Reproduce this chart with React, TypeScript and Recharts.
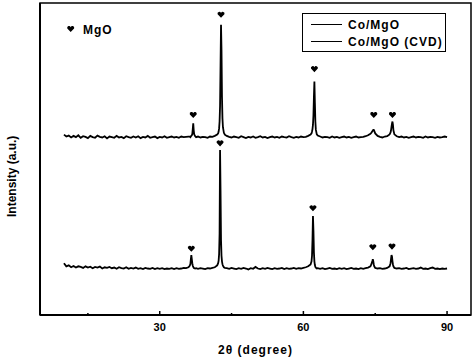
import { LineChart, Line, XAxis, YAxis, Scatter, ReferenceArea } from 'recharts'

// 2θ positions (deg); coarse on the baseline, fine around the MgO reflections
const angles = [
  10, 10.5, 11, 11.5, 12, 12.5, 13, 13.5, 14, 14.5, 15, 15.5, 16, 16.5, 17, 17.5, 18, 18.5, 19, 19.5,
  20, 20.5, 21, 21.5, 22, 22.5, 23, 23.5, 24, 24.5, 25, 25.5, 26, 26.5, 27, 27.5, 28, 28.5, 29, 29.5,
  30, 30.5, 31, 31.5, 32, 32.5, 33, 33.5, 34, 34.5, 35, 35.5, 36,
  36.2, 36.4, 36.5, 36.6, 36.7, 36.8, 36.9, 37.0, 37.1, 37.2, 37.4,
  37.6, 38, 38.5, 39, 39.5, 40, 40.5, 41, 41.5, 42,
  42.2, 42.3, 42.4, 42.5, 42.6, 42.7, 42.8, 42.9, 43.0, 43.1, 43.2, 43.4, 43.6,
  44, 44.5, 45, 45.5, 46, 46.5, 47, 47.5, 48, 48.5, 49, 49.5, 50, 50.5, 51, 51.5, 52, 52.5,
  53, 53.5, 54, 54.5, 55, 55.5, 56, 56.5, 57, 57.5, 58, 58.5, 59, 59.5, 60, 60.5, 61, 61.5,
  61.7, 61.8, 61.9, 62.0, 62.1, 62.2, 62.3, 62.4, 62.5, 62.6, 62.8,
  63, 63.5, 64, 64.5, 65, 65.5, 66, 66.5, 67, 67.5, 68, 68.5, 69, 69.5, 70, 70.5, 71, 71.5,
  72, 72.5, 73, 73.5, 74,
  74.2, 74.4, 74.5, 74.6, 74.7, 74.8, 75.0,
  75.5, 76, 76.5, 77, 77.5, 78,
  78.2, 78.3, 78.4, 78.5, 78.6, 78.7, 78.8, 79.0,
  79.5, 80, 80.5, 81, 81.5, 82, 82.5, 83, 83.5, 84, 84.5, 85, 85.5, 86, 86.5, 87, 87.5, 88,
  88.5, 89, 89.5, 90,
]

// upper trace (offset)
const coMgO = [
  57.8, 57.2, 57.5, 56.9, 57.4, 57.0, 57.6, 56.8, 57.3, 57.1, 56.7, 57.4, 57.0, 56.8, 57.5, 57.1, 56.9, 57.3, 56.6, 57.2,
  57.0, 56.8, 57.4, 56.9, 57.1, 56.7, 57.3, 57.0, 56.8, 57.2, 56.9, 57.3, 56.7, 57.1, 56.9, 57.4, 56.8, 57.0, 57.2, 56.7,
  57.1, 56.9, 57.3, 56.8, 57.0, 57.2, 56.9, 57.1, 56.8, 57.2, 57.0, 57.1, 57.2,
  57.2, 57.0, 57.3, 57.4, 57.6, 58.0, 59.6, 61.4, 59.2, 57.9, 57.3,
  57.0, 57.2, 56.9, 57.1, 57.0, 56.8, 57.2, 57.1, 57.4, 57.8,
  58.2, 58.8, 59.8, 62.0, 67, 80, 93, 85, 70, 63, 60.2, 58.4, 57.8,
  57.4, 57.1, 56.9, 57.2, 57.0, 56.8, 57.3, 57.0, 56.7, 57.1, 56.9, 57.2, 56.8, 57.0, 57.3, 56.9, 57.1, 56.7,
  57.0, 57.2, 56.9, 57.1, 56.8, 57.2, 57.0, 56.9, 57.3, 57.0, 56.8, 57.1, 56.9, 57.2, 57.0, 57.1, 57.4, 57.8,
  58.2, 58.8, 59.6, 61, 64, 70, 74.8, 68, 62, 59.4, 57.9,
  57.5, 57.2, 56.9, 57.1, 57.0, 56.8, 57.2, 56.9, 57.1, 56.8, 57.0, 57.2, 56.9, 57.1, 56.8, 57.0, 57.2, 56.9,
  57.0, 57.1, 57.3, 57.6, 58.1,
  58.4, 58.9, 59.2, 59.3, 59.3, 59.0, 58.2,
  57.4, 57.1, 56.9, 57.2, 57.3, 57.9,
  58.5, 59.2, 60.3, 61.3, 62, 61, 59.2, 57.9,
  57.3, 57.0, 57.2, 56.9, 57.1, 56.8, 57.0, 57.2, 56.9, 57.1, 57.0, 56.8, 57.2, 56.9, 57.1, 57.0, 56.8, 57.1,
  56.9, 57.0, 57.2, 57.0,
]

// lower trace
const coMgOCvd = [
  16.6, 15.6, 15.9, 15.3, 15.7, 15.2, 15.6, 15.4, 15.1, 15.6, 15.2, 15.5, 15.0, 15.4, 15.2, 15.5, 14.9, 15.3, 15.1, 15.4,
  15.0, 15.2, 14.8, 15.3, 15.0, 14.9, 15.3, 14.8, 15.1, 14.9, 15.2, 14.8, 15.0, 14.7, 15.1, 14.9, 14.8, 15.1, 14.7, 15.0,
  14.8, 15.0, 14.7, 14.9, 14.8, 15.0, 14.7, 15.0, 14.8, 14.9, 15.1, 15.0, 15.3,
  15.6, 16.3, 17.8, 19.2, 17.9, 16.6, 15.8, 15.4, 15.1, 15.0, 14.9,
  15.0, 14.8, 15.0, 14.9, 14.7, 15.0, 14.9, 15.1, 15.3, 15.9,
  16.6, 17.4, 19.5, 26, 52.9, 40, 24, 19, 17.2, 16.3, 15.8, 15.3, 15.1,
  15.0, 14.8, 15.1, 14.9, 14.7, 15.0, 14.8, 15.1, 14.9, 14.6, 15.0, 14.8, 15.4, 14.9, 14.7, 15.0, 14.8, 15.1,
  14.9, 14.7, 15.0, 14.8, 14.9, 15.1, 14.7, 15.0, 14.8, 14.9, 15.1, 14.8, 15.0, 14.9, 15.1, 15.3, 15.6, 16.2,
  17.2, 19, 24, 31.7, 27, 20, 17.2, 16.0, 15.4, 15.2, 14.9,
  15.0, 14.8, 15.0, 14.7, 14.9, 15.1, 14.8, 14.9, 14.7, 15.0, 14.8, 15.0, 14.7, 14.9, 15.1, 14.8, 14.9, 14.7,
  15.0, 14.8, 15.0, 15.2, 15.6,
  16.3, 17.3, 17.9, 17.2, 16.2, 15.6, 15.1,
  14.9, 15.0, 14.8, 14.9, 15.1, 15.6,
  16.6, 17.9, 19.2, 18.8, 17.3, 16.2, 15.6, 15.1,
  14.9, 15.0, 14.8, 14.9, 15.1, 14.7, 14.9, 15.0, 14.8, 14.9, 15.2, 14.8, 14.9, 14.7, 15.0, 15.2, 14.8, 14.9,
  14.7, 14.9, 14.8, 14.9,
]

// MgO markers (♥) above each reflection
const markUpperX = [37.0, 42.8, 62.3, 74.7, 78.6]
const markUpperY = [64.1, 96.2, 78.8, 64.1, 64.1]
const markLowerX = [36.6, 42.6, 62.0, 74.5, 78.5]
const markLowerY = [21.2, 55.0, 34.2, 21.7, 21.9]

const xTicks = [15, 30, 45, 60, 75, 90]
const xLabels = [30, 60, 90]

const FONT = '"Liberation Sans", Arial, sans-serif'

const data = angles.map((a, i) => ({ angle: a, top: coMgO[i], bottom: coMgOCvd[i] }))
const marks = [
  ...markUpperX.map((x, i) => ({ angle: x, mark: markUpperY[i] })),
  ...markLowerX.map((x, i) => ({ angle: x, mark: markLowerY[i] })),
]

function heartPath(cx: number, cy: number) {
  return `M${cx},${cy + 3} L${cx - 3.4},${cy - 0.6} A1.8,1.8 0 0 1 ${cx},${cy - 1.8} A1.8,1.8 0 0 1 ${cx + 3.4},${cy - 0.6} Z`
}

function Heart(props: { cx?: number; cy?: number }) {
  const { cx = 0, cy = 0 } = props
  return <path d={heartPath(cx, cy)} fill="#000" />
}

function XTick(props: { x?: number; y?: number; payload?: { value: number } }) {
  const { x = 0, y = 0, payload } = props
  const v = payload?.value ?? 0
  const major = xLabels.includes(v)
  return (
    <g>
      <line x1={x} x2={x} y1={y} y2={y - (major ? 4 : 2)} stroke="#000" strokeWidth={1.5} />
      {major && (
        <text x={x} y={y + 16} textAnchor="middle" fontFamily={FONT} fontWeight="bold" fontSize={11} fill="#000">
          {v}
        </text>
      )}
    </g>
  )
}

function LegendBox() {
  const row = (label: string, w: number) => (
    <div style={{ display: 'flex', alignItems: 'center', height: 17 }}>
      <div style={{ width: 31, height: w, background: '#000', marginRight: 6 }} />
      <span style={{ fontFamily: FONT, fontWeight: 'bold', fontSize: 12, letterSpacing: 1, color: '#000' }}>{label}</span>
    </div>
  )
  return (
    <div style={{
      position: 'absolute', left: 302, top: 13, width: 134, height: 35,
      border: '1.5px solid #000', padding: '2px 0 0 8px', background: '#fff',
    }}>
      {row('Co/MgO', 1)}
      {row('Co/MgO (CVD)', 1.6)}
    </div>
  )
}

export default function App() {
  return (
    <div style={{ position: 'absolute', left: 0, top: 0, width: 474, height: 358, background: '#fff' }}>
      <LineChart width={474} height={358} data={data} margin={{ top: 3, right: 3, bottom: 0, left: 0 }}>
        <XAxis
          dataKey="angle" type="number" domain={[5, 95]} ticks={xTicks} height={43}
          tick={<XTick />} tickLine={false} tickSize={0} tickMargin={0}
          axisLine={{ stroke: '#000', strokeWidth: 2 }}
          label={{ value: '2θ (degree)', position: 'insideBottom', offset: 4, fontFamily: FONT, fontWeight: 'bold', fontSize: 12, fill: '#000', letterSpacing: 1 }}
        />
        <YAxis
          type="number" domain={[0, 100]} width={40} tick={false} tickLine={false}
          axisLine={{ stroke: '#000', strokeWidth: 2 }}
          label={{ value: 'Intensity (a.u.)', angle: -90, position: 'insideLeft', offset: 12, dy: 58, fontFamily: FONT, fontWeight: 'bold', fontSize: 12, fill: '#000' }}
        />
        <ReferenceArea x1={5} x2={95} y1={0} y2={100} fill="none" stroke="#000" strokeWidth={1.5} />
        <Line dataKey="top" name="Co/MgO" stroke="#000" strokeWidth={1.8} dot={false} isAnimationActive={false} />
        <Line dataKey="bottom" name="Co/MgO (CVD)" stroke="#000" strokeWidth={1.8} dot={false} isAnimationActive={false} />
        <Scatter data={marks} dataKey="mark" shape={<Heart />} isAnimationActive={false} />
      </LineChart>
      <LegendBox />
      <svg style={{ position: 'absolute', left: 62, top: 20 }} width={60} height={20}>
        <path d={heartPath(8.7, 9)} fill="#000" />
        <text x={21} y={14} fontFamily={FONT} fontWeight="bold" fontSize={12} letterSpacing={1} fill="#000">MgO</text>
      </svg>
    </div>
  )
}
